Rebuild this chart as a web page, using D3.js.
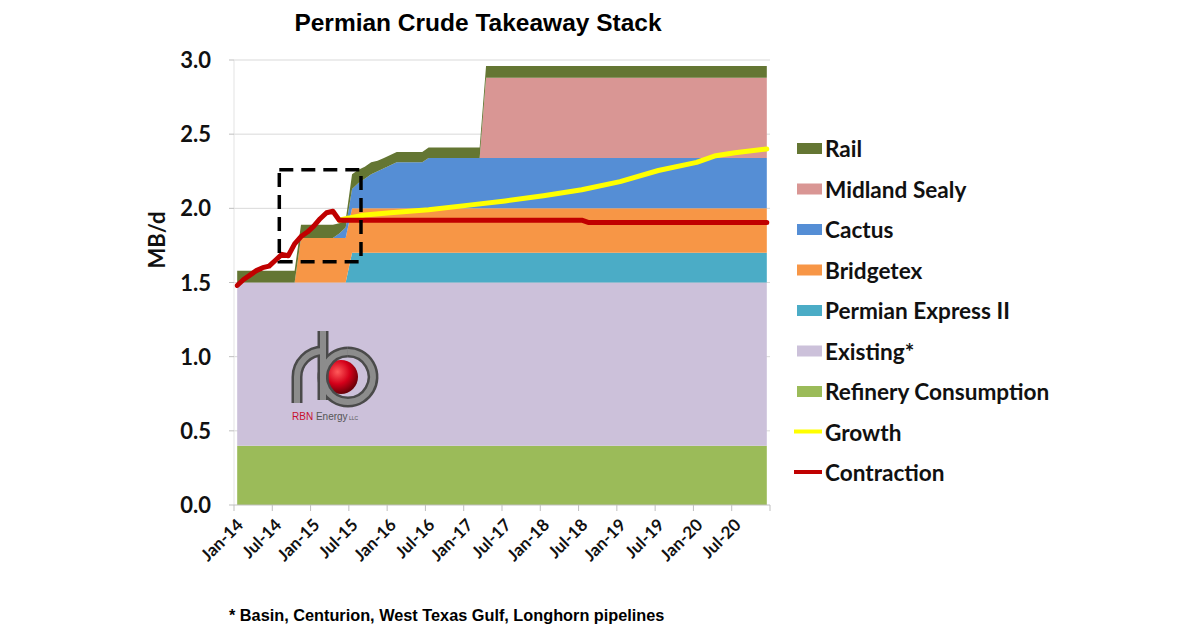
<!DOCTYPE html>
<html lang="en">
<head>
    <meta charset="UTF-8">
    <title>Permian Crude Takeaway Stack</title>
    <script src="https://d3js.org/d3.v7.min.js"></script>
    <style>
        body {
            margin: 0;
            padding: 0;
            background-color: #ffffff;
        }
        .title {
            font-family: "Liberation Sans", Arial, sans-serif;
            font-weight: bold;
            font-size: 24.5px;
        }
        .axis-label, .legend-label {
            font-family: Lato, "Open Sans", sans-serif;
            font-weight: bold;
            fill: #111;
        }
        .note {
            font-family: "Liberation Sans", Arial, sans-serif;
            font-weight: bold;
            font-size: 16.3px;
        }
    </style>
</head>
<body>
    <div id="chart"></div>

    <script>
        // months where the capacity stack changes (values in MB/d)
        const stackMonths = ["2014-01", "2014-10", "2014-11", "2015-04", "2015-05", "2015-06", "2015-07",
            "2015-08", "2015-09", "2015-10", "2015-11", "2015-12", "2016-01", "2016-02", "2016-06",
            "2016-07", "2017-03", "2017-04", "2020-12"];
        const refinery  = [0.4, 0.4, 0.4, 0.4, 0.4, 0.4, 0.4, 0.4, 0.4, 0.4, 0.4, 0.4, 0.4, 0.4, 0.4, 0.4, 0.4, 0.4, 0.4];
        const existing  = [1.1, 1.1, 1.1, 1.1, 1.1, 1.1, 1.1, 1.1, 1.1, 1.1, 1.1, 1.1, 1.1, 1.1, 1.1, 1.1, 1.1, 1.1, 1.1];
        const permianExpress = [0, 0, 0, 0, 0, 0, 0.2, 0.2, 0.2, 0.2, 0.2, 0.2, 0.2, 0.2, 0.2, 0.2, 0.2, 0.2, 0.2];
        const bridgetex = [0, 0, 0.3, 0.3, 0.3, 0.3, 0.3, 0.3, 0.3, 0.3, 0.3, 0.3, 0.3, 0.3, 0.3, 0.3, 0.3, 0.3, 0.3];
        const cactus    = [0, 0, 0, 0, 0.03, 0.07, 0.13, 0.17, 0.2, 0.23, 0.25, 0.27, 0.29, 0.31, 0.31, 0.34, 0.34, 0.34, 0.34];
        const midland   = [0, 0, 0, 0, 0, 0, 0, 0, 0, 0, 0, 0, 0, 0, 0, 0, 0, 0.54, 0.54];
        const rail      = [0.08, 0.08, 0.09, 0.09, 0.07, 0.05, 0.1, 0.09, 0.08, 0.08, 0.07, 0.07, 0.07, 0.07, 0.07, 0.07, 0.07, 0.08, 0.08];

        const growthMonths = ["2015-05", "2015-06", "2015-09", "2016-01", "2016-07", "2017-01", "2017-07",
            "2018-01", "2018-07", "2019-01", "2019-07", "2020-01", "2020-04", "2020-07", "2020-12"];
        const growthValues = [1.92, 1.93, 1.955, 1.97, 1.99, 2.02, 2.05, 2.085, 2.125, 2.18, 2.255, 2.31, 2.355, 2.375, 2.40];

        const contractionMonths = ["2014-01", "2014-02", "2014-03", "2014-04", "2014-05", "2014-06", "2014-07",
            "2014-08", "2014-09", "2014-10", "2014-11", "2014-12", "2015-01", "2015-02", "2015-03", "2015-04",
            "2015-05", "2015-06", "2018-07", "2018-08", "2020-12"];
        const contractionValues = [1.48, 1.52, 1.55, 1.58, 1.60, 1.61, 1.65, 1.69, 1.68, 1.76, 1.81, 1.84,
            1.88, 1.93, 1.97, 1.98, 1.92, 1.92, 1.92, 1.905, 1.905];

        const xTickLabels = ["Jan-14", "Jul-14", "Jan-15", "Jul-15", "Jan-16", "Jul-16", "Jan-17",
            "Jul-17", "Jan-18", "Jul-18", "Jan-19", "Jul-19", "Jan-20", "Jul-20"];
        const yTicks = [0, 0.5, 1.0, 1.5, 2.0, 2.5, 3.0];

        // dashed highlight box, in month index / MB/d
        const highlightMonths = [6.6, 19.4];
        const highlightValues = [1.64, 2.26];

        const series = [
            { key: "refinery", name: "Refinery Consumption", color: "#9bbb59", values: refinery },
            { key: "existing", name: "Existing*", color: "#ccc1da", values: existing },
            { key: "pe2", name: "Permian Express II", color: "#4bacc6", values: permianExpress },
            { key: "bridgetex", name: "Bridgetex", color: "#f79646", values: bridgetex },
            { key: "cactus", name: "Cactus", color: "#558ed5", values: cactus },
            { key: "midland", name: "Midland Sealy", color: "#d99694", values: midland },
            { key: "rail", name: "Rail", color: "#647633", values: rail }
        ];

        const width = 1200;
        const height = 630;
        const totalMonths = 84;

        const monthIndex = s => {
            const [y, m] = s.split("-").map(Number);
            return (y - 2014) * 12 + (m - 1);
        };
        const monNames = ["Jan", "Feb", "Mar", "Apr", "May", "Jun", "Jul", "Aug", "Sep", "Oct", "Nov", "Dec"];
        const labelIndex = s => {
            const [mon, yy] = s.split("-");
            return (2000 + +yy - 2014) * 12 + monNames.indexOf(mon);
        };

        const svg = d3.select("#chart")
            .append("svg")
            .attr("width", width)
            .attr("height", height);

        // category axis: points in the middle of each month
        const x = d3.scaleLinear()
            .domain([-0.5, totalMonths - 0.5])
            .range([234, 770]);
        const y = d3.scaleLinear()
            .domain([0, 3])
            .range([505, 60]);

        svg.append("text")
            .attr("class", "title")
            .attr("x", 478)
            .attr("y", 31)
            .attr("text-anchor", "middle")
            .text("Permian Crude Takeaway Stack");

        // gridlines
        svg.append("g")
            .selectAll("line")
            .data(yTicks.filter(d => d > 0))
            .join("line")
            .attr("x1", x(-0.5))
            .attr("x2", x(totalMonths - 0.5))
            .attr("y1", d => y(d))
            .attr("y2", d => y(d))
            .attr("stroke", "#d9d9d9")
            .attr("stroke-width", 1);

        // stacked areas
        const rows = stackMonths.map((m, i) => {
            const row = { m: monthIndex(m) };
            series.forEach(s => row[s.key] = s.values[i]);
            return row;
        });
        const stacked = d3.stack().keys(series.map(s => s.key))(rows);

        const area = d3.area()
            .x(d => x(d.data.m))
            .y0(d => y(d[0]))
            .y1(d => y(d[1]));

        svg.append("g")
            .selectAll("path")
            .data(stacked)
            .join("path")
            .attr("d", area)
            .attr("fill", (d, i) => series[i].color);

        // lines
        const line = d3.line()
            .x(d => x(d[0]))
            .y(d => y(d[1]));

        svg.append("path")
            .datum(growthMonths.map((m, i) => [monthIndex(m), growthValues[i]]))
            .attr("d", line)
            .attr("fill", "none")
            .attr("stroke", "#ffff00")
            .attr("stroke-width", 5)
            .attr("stroke-linejoin", "round")
            .attr("stroke-linecap", "round");

        svg.append("path")
            .datum(contractionMonths.map((m, i) => [monthIndex(m), contractionValues[i]]))
            .attr("d", line)
            .attr("fill", "none")
            .attr("stroke", "#c00000")
            .attr("stroke-width", 5)
            .attr("stroke-linejoin", "round")
            .attr("stroke-linecap", "round");

        // dashed box
        svg.append("rect")
            .attr("x", x(highlightMonths[0]))
            .attr("y", y(highlightValues[1]))
            .attr("width", x(highlightMonths[1]) - x(highlightMonths[0]))
            .attr("height", y(highlightValues[0]) - y(highlightValues[1]))
            .attr("fill", "none")
            .attr("stroke", "#000")
            .attr("stroke-width", 3.5)
            .attr("stroke-dasharray", "14,8");

        // y axis
        const yAxis = svg.append("g");
        yAxis.append("line")
            .attr("x1", x(-0.5)).attr("x2", x(-0.5))
            .attr("y1", y(0)).attr("y2", y(3))
            .attr("stroke", "#e3e3e3");
        yAxis.selectAll("line.tick")
            .data(yTicks)
            .join("line")
            .attr("class", "tick")
            .attr("x1", x(-0.5) - 5).attr("x2", x(-0.5))
            .attr("y1", d => y(d)).attr("y2", d => y(d))
            .attr("stroke", "#bfbfbf");
        yAxis.selectAll("text")
            .data(yTicks)
            .join("text")
            .attr("class", "axis-label")
            .attr("x", 211)
            .attr("y", d => y(d) + 8)
            .attr("text-anchor", "end")
            .attr("font-size", 22)
            .text(d => d3.format(".1f")(d));

        svg.append("text")
            .attr("class", "axis-label")
            .attr("transform", "translate(165,240) rotate(-90)")
            .attr("text-anchor", "middle")
            .attr("font-size", 22)
            .text("MB/d");

        // x axis
        const xAxis = svg.append("g");
        xAxis.append("line")
            .attr("x1", x(-0.5)).attr("x2", x(totalMonths - 0.5))
            .attr("y1", y(0)).attr("y2", y(0))
            .attr("stroke", "#bfbfbf");
        const tickIdx = xTickLabels.map(labelIndex).concat([totalMonths]);
        xAxis.selectAll("line.tick")
            .data(tickIdx)
            .join("line")
            .attr("class", "tick")
            .attr("x1", d => x(d - 0.5)).attr("x2", d => x(d - 0.5))
            .attr("y1", y(0)).attr("y2", y(0) + 6)
            .attr("stroke", "#bfbfbf");
        xAxis.selectAll("text")
            .data(xTickLabels)
            .join("text")
            .attr("class", "axis-label")
            .attr("font-size", 17)
            .attr("text-anchor", "end")
            .attr("transform", d => `translate(${x(labelIndex(d)) + 7},${y(0) + 21}) rotate(-45)`)
            .text(d => d);

        // legend
        const legendItems = series.slice().reverse().map(s => ({ name: s.name, color: s.color, type: "area" }))
            .concat([
                { name: "Growth", color: "#ffff00", type: "line" },
                { name: "Contraction", color: "#c00000", type: "line" }
            ]);
        const legend = svg.append("g")
            .selectAll("g")
            .data(legendItems)
            .join("g")
            .attr("transform", (d, i) => `translate(797,${149 + i * 40.5})`);
        legend.filter(d => d.type === "area")
            .append("rect")
            .attr("x", 0).attr("y", -6)
            .attr("width", 25).attr("height", 11)
            .attr("fill", d => d.color);
        legend.filter(d => d.type === "line")
            .append("line")
            .attr("x1", -3).attr("x2", 25)
            .attr("y1", -1).attr("y2", -1)
            .attr("stroke", d => d.color)
            .attr("stroke-width", 4);
        legend.append("text")
            .attr("class", "legend-label")
            .attr("x", 28)
            .attr("y", 8)
            .attr("font-size", 22.6)
            .text(d => d.name);

        // RBN Energy logo
        const logo = svg.append("g");
        const defs = svg.append("defs");
        const grad = defs.append("radialGradient")
            .attr("id", "ball")
            .attr("cx", "40%").attr("cy", "35%").attr("r", "65%");
        grad.append("stop").attr("offset", "0%").attr("stop-color", "#ff5a5a");
        grad.append("stop").attr("offset", "55%").attr("stop-color", "#d4001a");
        grad.append("stop").attr("offset", "100%").attr("stop-color", "#6a0008");

        const tube = [
            "M297,403 V377 A26,26 0 0 1 323,351",
            "M323,331 V400",
            "M348,352 A25,25 0 1 1 347.9,352"
        ];
        logo.append("circle")
            .attr("cx", 341).attr("cy", 377).attr("r", 17)
            .attr("fill", "url(#ball)");
        tube.forEach(p => {
            logo.append("path").attr("d", p).attr("fill", "none")
                .attr("stroke", "#4a4a4a").attr("stroke-width", 11);
        });
        tube.forEach(p => {
            logo.append("path").attr("d", p).attr("fill", "none")
                .attr("stroke", "#8c8c8c").attr("stroke-width", 6);
        });
        const logoText = logo.append("text")
            .attr("x", 292).attr("y", 420)
            .attr("font-family", "Liberation Sans, Arial, sans-serif")
            .attr("font-size", 10);
        logoText.append("tspan").attr("fill", "#c8102e").text("RBN ");
        logoText.append("tspan").attr("fill", "#555").text("Energy");
        logoText.append("tspan").attr("fill", "#555").attr("font-size", 5).text(" LLC");

        svg.append("text")
            .attr("class", "note")
            .attr("x", 229)
            .attr("y", 621)
            .text("* Basin, Centurion, West Texas Gulf, Longhorn pipelines");
    </script>
</body>
</html>
